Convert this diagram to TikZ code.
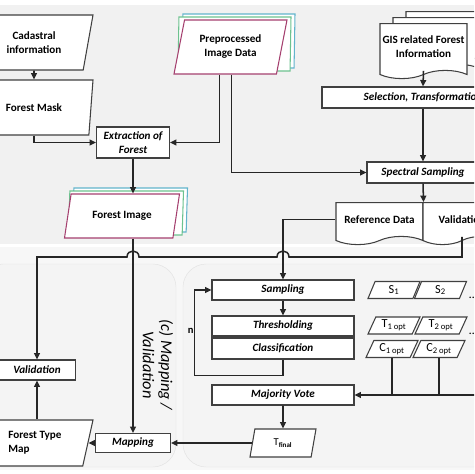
\documentclass[tikz,border=0pt]{standalone}
\usepackage{fontspec}
\setmainfont{Carlito}
\usetikzlibrary{arrows.meta,positioning,shapes.geometric,shapes.symbols,calc}
\definecolor{layM}{HTML}{A5406F}
\definecolor{layG}{HTML}{6DC28F}
\definecolor{layB}{HTML}{62B4CC}
\tikzset{
  blk/.style={draw=black!75, fill=white, rectangle, line width=0.9pt, align=center, inner sep=1pt, font=\fontsize{9.5}{11.5}\selectfont\bfseries\itshape},
  para/.style={draw=black!75, fill=white, trapezium, trapezium left angle=68, trapezium right angle=112, trapezium stretches body, line width=0.9pt, align=center, inner sep=1pt, font=\fontsize{9.5}{12}\selectfont\bfseries},
  spara/.style={para, trapezium left angle=60, trapezium right angle=120, minimum width=1.56cm, minimum height=0.51cm, font=\fontsize{10.5}{12}\selectfont},
  doc/.style={draw=black!75, fill=white, tape, tape bend top=none, tape bend height=7pt, line width=0.9pt, align=center, inner sep=1pt, font=\fontsize{9.5}{12}\selectfont\bfseries},
  arr/.style={-{Triangle[length=5.5pt, width=5pt]}, line width=1.3pt, black!85},
  ln/.style={line width=1.3pt, black!85},
}
\begin{document}
\begin{tikzpicture}[x=0.03cm, y=-0.03cm]
\useasboundingbox (0,0) rectangle (474,474);
\clip (0,0) rectangle (474,474);

% panels
\fill[gray!11] (0,5) rectangle (474,244);
\fill[gray!6] (0,247) rectangle (474,470);
\draw[gray!22, fill=gray!9, rounded corners=0.7cm] (-20,264) rectangle (176,467);
\draw[gray!22, fill=gray!9, rounded corners=0.7cm] (183,264) rectangle (520,467);

% upper part
\node[para, minimum width=3.54cm, minimum height=1.65cm] (cad) at (34,42.5) {Cadastral\\information};
\node[para, minimum width=3.54cm, minimum height=1.65cm] (mask) at (34,107.5) {Forest Mask};
\node[blk, minimum width=2.19cm, minimum height=0.93cm] (extr) at (133,142.5) {Extraction of\\Forest};

\node[para, draw=layB, minimum width=3.39cm, minimum height=1.62cm] (pre3) at (238.5,41) {};
\node[para, draw=layG, minimum width=3.39cm, minimum height=1.62cm] (pre2) at (234.5,44) {};
\node[para, draw=layM, minimum width=3.39cm, minimum height=1.62cm] (pre) at (230.5,47) {Preprocessed\\Image Data};

\node[para, draw=layB, trapezium left angle=60, trapezium right angle=120, minimum width=3.45cm, minimum height=1.32cm] (fimg3) at (130,210) {};
\node[para, draw=layG, trapezium left angle=60, trapezium right angle=120, minimum width=3.45cm, minimum height=1.32cm] (fimg2) at (126,213) {};
\node[para, draw=layM, trapezium left angle=60, trapezium right angle=120, minimum width=3.45cm, minimum height=1.32cm] (fimg) at (122,216) {Forest Image};

\node[doc, minimum width=2.61cm, minimum height=1.65cm] (gis3) at (449.5,35) {};
\node[doc, minimum width=2.61cm, minimum height=1.65cm] (gis2) at (436.5,41) {};
\node[doc, minimum width=2.61cm, minimum height=1.65cm] (gis) at (423.5,47) {GIS related Forest\\Information};

\node[blk, minimum width=6.06cm, minimum height=0.63cm] (sel) at (423,97.5) {Selection, Transformation};
\node[blk, minimum width=3.36cm, minimum height=0.63cm] (spec) at (423,172.5) {Spectral Sampling};
\node[doc, minimum width=2.61cm, minimum height=1.26cm] (ref) at (379.5,219.5) {Reference Data};
\node[doc, minimum width=2.34cm, minimum height=1.26cm] (val) at (462,219.5) {Validation};

% mapping / validation
\node[blk, minimum width=2.31cm, minimum height=0.6cm] (valb) at (37,370) {Validation};
\node[para, align=left, minimum width=3.48cm, minimum height=1.38cm] (ftmap) at (35,443) {Forest Type\\Map};
\node[blk, minimum width=2.25cm, minimum height=0.57cm] (mapx) at (133,443) {Mapping};
\node[rotate=-90, align=center, font=\fontsize{14}{15.5}\selectfont\itshape] (mvlbl) at (158,365) {(c) Mapping /\\Validation};

% classification loop
\node[blk, minimum width=4.26cm, minimum height=0.6cm] (samp) at (283,290) {Sampling};
\node[blk, minimum width=4.26cm, minimum height=0.6cm] (thr) at (283,326) {Thresholding};
\node[blk, minimum width=4.26cm, minimum height=0.63cm] (cls) at (283,348.5) {Classification};
\node[blk, minimum width=4.26cm, minimum height=0.6cm] (maj) at (283,395) {Majority Vote};
\node[para, trapezium left angle=65, trapezium right angle=115, minimum width=1.98cm, minimum height=0.84cm, font=\fontsize{9}{10}\selectfont] (tfin) at (283,443) {T\textsubscript{\bfseries final}};
\node[anchor=east, inner sep=1pt, font=\fontsize{9}{10}\selectfont\bfseries] (nlbl) at (195,331) {n};

\node[spara] (s1) at (394,290) {S\textsubscript{1}};
\node[spara] (s2) at (440.5,290) {S\textsubscript{2}};
\node[spara] (t1) at (394,325.5) {T\textsubscript{1 opt}};
\node[spara] (t2) at (441,325.5) {T\textsubscript{2 opt}};
\node[spara] (c1) at (392,349) {C\textsubscript{1 opt}};
\node[spara] (c2) at (439,349) {C\textsubscript{2 opt}};
\node[anchor=base west, inner sep=0pt, font=\fontsize{10.5}{12}\selectfont] (dots1) at (469,298) {\dots};
\node[anchor=base west, inner sep=0pt, font=\fontsize{10.5}{12}\selectfont] (dots2) at (469,334) {\dots};
\coordinate (mvin) at (480,395);
\coordinate (hl) at (0,257);

\draw[arr] (cad) -- (mask);
\draw[arr] (mask.south) |- (extr.west);
\draw[arr] ($(pre.bottom left corner)+(46,0)$) |- (extr.east);
\draw[arr] ($(pre.bottom left corner)+(58,0)$) |- (spec.west);
\draw[arr] (extr.south) -- (extr.south |- fimg.north);
\draw[arr] (fimg.south -| mapx.north) -- (mapx.north);
\draw[arr] (gis.south) -- (sel.north);
\draw[arr] (sel) -- (spec);
\draw[arr] (spec.south) -- (ref.north east);
\draw[arr] (ref.west) -| (samp.north);
\draw[arr] (val.south) |- ($(samp.north|-hl)+(6,0)$)
  .. controls ($(samp.north|-hl)+(6,-8)$) and ($(samp.north|-hl)+(-6,-8)$) .. ($(samp.north|-hl)+(-6,0)$)
  -- ($(mapx.north|-hl)+(6,0)$)
  .. controls ($(mapx.north|-hl)+(6,-8)$) and ($(mapx.north|-hl)+(-6,-8)$) .. ($(mapx.north|-hl)+(-6,0)$)
  -| (valb.north);
\draw[arr] (samp) -- (thr);
\draw[arr] (cls.south) -- ++(0,16) -| ($(samp.west)+(-17,0)$) -- (samp.west);
\draw[arr] (maj) -- (tfin);
\draw[arr] (tfin) -- (mapx);
\draw[arr] (mapx) -- (ftmap);
\draw[arr] (valb.south |- ftmap.north) -- (valb.south);
\draw[arr] (mvin) -- (maj.east);
\draw[ln] (c1.south) -- (c1.south |- maj.east);
\draw[ln] (c2.south) -- (c2.south |- maj.east);

\end{tikzpicture}
\end{document}
